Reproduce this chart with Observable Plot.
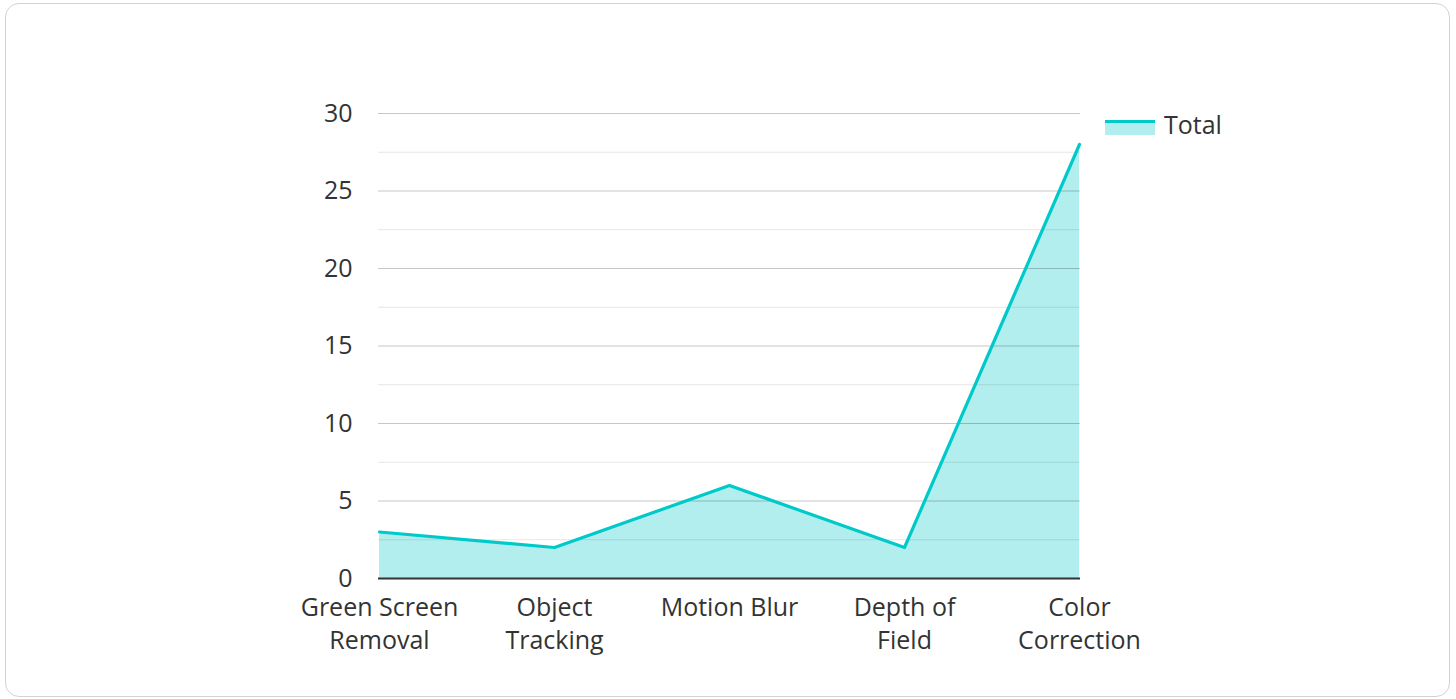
<!DOCTYPE html>
<html>
<head>
<meta charset="utf-8">
<script src="https://cdn.jsdelivr.net/npm/d3@7"></script>
<script src="https://cdn.jsdelivr.net/npm/@observablehq/plot@0.6"></script>
<style>
  html, body { margin: 0; padding: 0; background: #fff; }
  body { width: 1456px; height: 699px; position: relative; overflow: hidden; font-family: "Open Sans", sans-serif; }
  #card { position: absolute; left: 5px; top: 3px; width: 1443px; height: 692px; border: 1.5px solid #d2d2d2; border-radius: 14px; }
  #chart { position: absolute; left: 0; top: 0; }
  #legend { position: absolute; left: 1105px; top: 107px; display: flex; align-items: center; font-size: 25px; color: #333; }
  #legend .sw { width: 50px; height: 15px; background: #b3eeee; border-top: 3px solid #00c9c9; box-sizing: border-box; margin-right: 9px; margin-top: 7px; }
</style>
</head>
<body>
<div id="card"></div>
<div id="chart"></div>
<div id="legend"><div class="sw"></div><span>Total</span></div>
<script>
const categories = ["Green Screen\nRemoval", "Object\nTracking", "Motion Blur", "Depth of\nField", "Color\nCorrection"];
const totals = [3, 2, 6, 2, 28];
const yTicks = [0, 5, 10, 15, 20, 25, 30];
const minorTicks = [2.5, 7.5, 12.5, 17.5, 22.5, 27.5];
const seriesName = "Total";

const data = categories.map((c, i) => ({category: c, value: totals[i], series: seriesName}));

const chart = Plot.plot({
  width: 1456,
  height: 699,
  marginLeft: 378,
  marginRight: 376,
  marginTop: 113,
  marginBottom: 121,
  style: {fontFamily: "Open Sans, sans-serif", fontSize: "25px", color: "#333", background: "transparent"},
  x: {type: "point", domain: categories, label: null, padding: 0},
  y: {domain: [0, 30], label: null},
  marks: [
    Plot.areaY(data, {x: "category", y: "value", fill: "#b3eeee"}),
    Plot.ruleY(minorTicks, {stroke: "#000", strokeOpacity: 0.1, strokeWidth: 1}),
    Plot.ruleY(yTicks.filter(d => d > 0), {stroke: "#000", strokeOpacity: 0.22, strokeWidth: 1}),
    Plot.lineY(data, {x: "category", y: "value", stroke: "#00c9c9", strokeWidth: 3.2}),
    Plot.ruleY([0], {stroke: "#333", strokeWidth: 2}),
    Plot.axisY({ticks: yTicks, tickSize: 0, tickPadding: 26, fontSize: 25, fill: "#333"}),
    Plot.axisX({tickSize: 0, tickPadding: 14, fontSize: 25, lineHeight: 1.32, fill: "#333"})
  ]
});
document.getElementById("chart").appendChild(chart);
</script>
</body>
</html>
